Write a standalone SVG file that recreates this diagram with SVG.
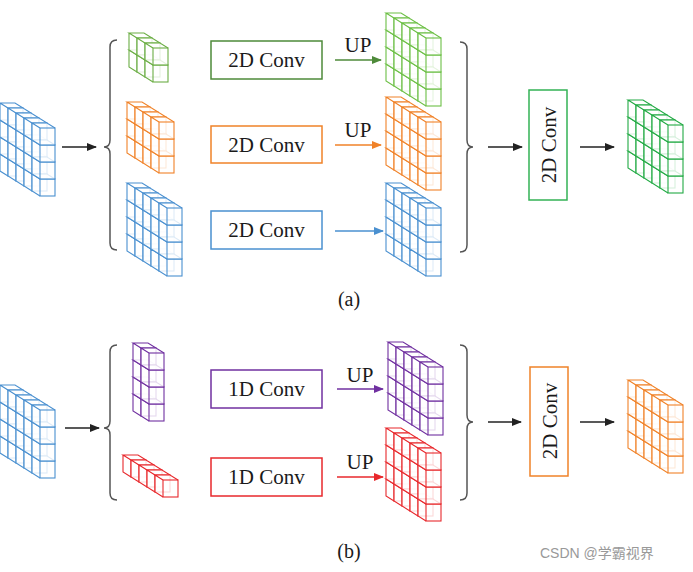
<svg xmlns="http://www.w3.org/2000/svg" xmlns:xlink="http://www.w3.org/1999/xlink" width="693" height="572" viewBox="0 0 693 572">
<style>
.cf{fill:#fff;fill-opacity:0.82;stroke:none}
.cb{fill:none;stroke:currentColor;stroke-width:1.1}
.box{fill:#fff;stroke-width:1.5}
.t{font-family:"Liberation Serif",serif;font-size:21px;fill:#1a1a1a}
.lb{font-family:"Liberation Serif",serif;font-size:20px;fill:#1a1a1a}
.br{fill:none;stroke:#555;stroke-width:1.5}
.ar{stroke-width:1.5;fill:none}
</style>
<defs>
<marker id="ah" viewBox="0 0 10 10" refX="9" refY="5" markerWidth="7" markerHeight="7" orient="auto"><path d="M0,1 L10,5 L0,9 Z" fill="context-stroke"/></marker>
<g id="c"><path class="cf" d="M-8,-5 H7 L15,0 V17 H0 L-8,12 Z"/><rect class="cb" x="0" y="0" width="15" height="17"/><path class="cb" d="M0,0 L-8,-5 H7 L15,0 M-8,-5 V12 L0,17"/></g>
<g id="l4"><use href="#c" y="51"/><use href="#c" y="34"/><use href="#c" y="17"/><use href="#c"/></g>
<g id="l3"><use href="#c" y="34"/><use href="#c" y="17"/><use href="#c"/></g>
<g id="l2"><use href="#c" y="17"/><use href="#c"/></g>
<g id="b54"><use href="#l4" x="-32" y="-20"/><use href="#l4" x="-24" y="-15"/><use href="#l4" x="-16" y="-10"/><use href="#l4" x="-8" y="-5"/><use href="#l4"/></g>
<g id="b43"><use href="#l3" x="-24" y="-15"/><use href="#l3" x="-16" y="-10"/><use href="#l3" x="-8" y="-5"/><use href="#l3"/></g>
<g id="b32"><use href="#l2" x="-16" y="-10"/><use href="#l2" x="-8" y="-5"/><use href="#l2"/></g>
<g id="b24"><use href="#l4" x="-8" y="-5"/><use href="#l4"/></g>
<g id="b51"><use href="#c" x="-32" y="-20"/><use href="#c" x="-24" y="-15"/><use href="#c" x="-16" y="-10"/><use href="#c" x="-8" y="-5"/><use href="#c"/></g>
</defs>
<rect width="693" height="572" fill="#fff"/>

<g id="a-input" color="#4a90d0"><use href="#b54" x="40" y="128"/></g>
<g id="a-green-in" color="#6cae45"><use href="#b32" x="153" y="48"/></g>
<g id="a-orange-in" color="#f08228"><use href="#b43" x="159" y="122"/></g>
<g id="a-blue-in" color="#4a90d0"><use href="#b54" x="167" y="208"/></g>
<g id="a-conv1"><rect class="box" x="211" y="41" width="111" height="38" stroke="#4e8a3a"/><text class="t" x="266.5" y="67" text-anchor="middle">2D Conv</text></g>
<g id="a-conv2"><rect class="box" x="211" y="126" width="111" height="37" stroke="#f08228"/><text class="t" x="266.5" y="152" text-anchor="middle">2D Conv</text></g>
<g id="a-conv3"><rect class="box" x="211" y="211" width="111" height="38" stroke="#4a90d0"/><text class="t" x="266.5" y="237" text-anchor="middle">2D Conv</text></g>
<g id="a-up1"><text class="t" x="358" y="52" text-anchor="middle">UP</text></g>
<g id="a-up2"><text class="t" x="358" y="137" text-anchor="middle">UP</text></g>
<g id="a-green-out" color="#6cbf45"><use href="#b54" x="426" y="38"/></g>
<g id="a-orange-out" color="#f08228"><use href="#b54" x="426" y="122"/></g>
<g id="a-blue-out" color="#4a90d0"><use href="#b54" x="426" y="208"/></g>
<g id="a-conv-final"><rect class="box" x="529" y="90" width="38" height="110" stroke="#33b255"/><text class="t" transform="translate(556,145) rotate(-90)" text-anchor="middle">2D Conv</text></g>
<g id="a-result" color="#22aa44"><use href="#b54" x="668" y="125"/></g>
<text class="lb" x="349" y="306" text-anchor="middle">(a)</text>

<g id="b-input" color="#4a90d0"><use href="#b54" x="40" y="410"/></g>
<g id="b-purple-in" color="#7030a0"><use href="#b24" x="149" y="353"/></g>
<g id="b-red-in" color="#e8282c"><use href="#b51" x="163" y="480"/></g>
<g id="b-conv1"><rect class="box" x="211" y="370" width="111" height="38" stroke="#7030a0"/><text class="t" x="266.5" y="396" text-anchor="middle">1D Conv</text></g>
<g id="b-conv2"><rect class="box" x="211" y="458" width="111" height="38" stroke="#e8282c"/><text class="t" x="266.5" y="484" text-anchor="middle">1D Conv</text></g>
<g id="b-up1"><text class="t" x="360" y="382" text-anchor="middle">UP</text></g>
<g id="b-up2"><text class="t" x="360" y="469" text-anchor="middle">UP</text></g>
<g id="b-purple-out" color="#7030a0"><use href="#b54" x="428" y="367"/></g>
<g id="b-red-out" color="#e8282c"><use href="#b54" x="426" y="453"/></g>
<g id="b-conv-final"><rect class="box" x="530" y="367" width="38" height="109" stroke="#f08228"/><text class="t" transform="translate(557,421) rotate(-90)" text-anchor="middle">2D Conv</text></g>
<g id="b-result" color="#f08228"><use href="#b54" x="668" y="405"/></g>
<text class="lb" x="349" y="558" text-anchor="middle">(b)</text>

<g id="connectors">
<path class="br" d="M117,40 Q110,40 110,47 V140 Q110,147 104,147 Q110,147 110,154 V243 Q110,250 117,250"/>
<path class="br" d="M460,42 Q467,42 467,49 V140 Q467,147 473,147 Q467,147 467,154 V245 Q467,252 460,252"/>
<path class="br" d="M117,345 Q110,345 110,352 V421 Q110,428 104,428 Q110,428 110,435 V493 Q110,500 117,500"/>
<path class="br" d="M460,345 Q467,345 467,352 V415 Q467,422 473,422 Q467,422 467,429 V493 Q467,500 460,500"/>
<line class="ar" x1="62" y1="147" x2="96" y2="147" stroke="#222" marker-end="url(#ah)"/>
<line class="ar" x1="488" y1="147" x2="522" y2="147" stroke="#222" marker-end="url(#ah)"/>
<line class="ar" x1="580" y1="147" x2="614" y2="147" stroke="#222" marker-end="url(#ah)"/>
<line class="ar" x1="335" y1="60" x2="381" y2="60" stroke="#4e8a3a" marker-end="url(#ah)"/>
<line class="ar" x1="335" y1="145" x2="381" y2="145" stroke="#f08228" marker-end="url(#ah)"/>
<line class="ar" x1="335" y1="231" x2="383" y2="231" stroke="#4a90d0" marker-end="url(#ah)"/>
<line class="ar" x1="65" y1="428" x2="99" y2="428" stroke="#222" marker-end="url(#ah)"/>
<line class="ar" x1="337" y1="389" x2="383" y2="389" stroke="#7030a0" marker-end="url(#ah)"/>
<line class="ar" x1="337" y1="477" x2="383" y2="477" stroke="#e8282c" marker-end="url(#ah)"/>
<line class="ar" x1="488" y1="422" x2="521" y2="422" stroke="#222" marker-end="url(#ah)"/>
<line class="ar" x1="580" y1="422" x2="614" y2="422" stroke="#222" marker-end="url(#ah)"/>
</g>
<text x="540" y="558" font-family="'Liberation Sans','Noto Sans CJK SC',sans-serif" font-size="14" fill="#999">CSDN @学霸视界</text>
</svg>
